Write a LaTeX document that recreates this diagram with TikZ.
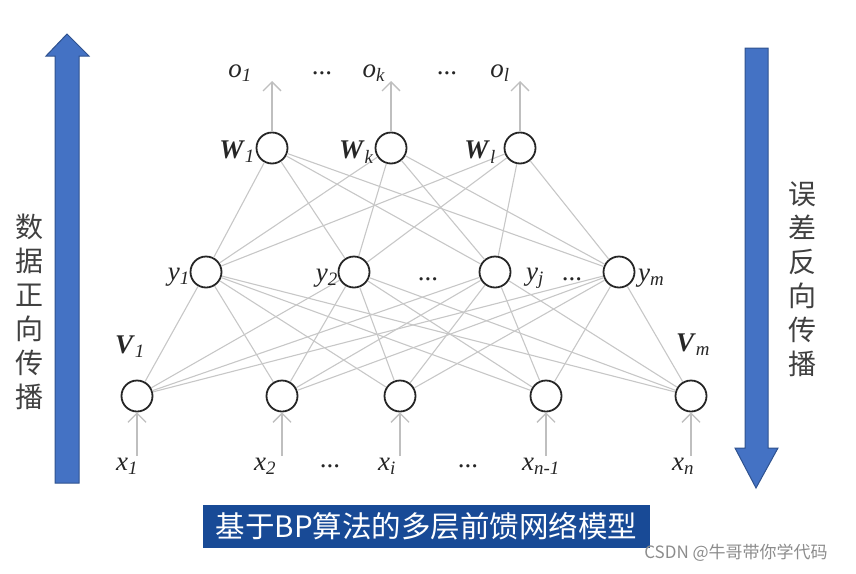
\documentclass[tikz,border=0pt]{standalone}
\usepackage{fontspec}
\setmainfont{Liberation Serif}
\newfontfamily\cjk{Noto Sans CJK SC}
\usetikzlibrary{arrows.meta,positioning}

\definecolor{flowblue}{RGB}{68,114,196}
\definecolor{flowedge}{RGB}{47,82,143}
\definecolor{titleblue}{RGB}{24,74,150}

\newcommand{\lbl}[2]{\textit{#1}\textsubscript{\textit{#2}}}
\newcommand{\blbl}[2]{\textbf{\textit{#1}}\textsubscript{\textit{#2}}}

\begin{document}
\begin{tikzpicture}[x=1pt, y=-1pt,
  unit/.style={draw=black!85, circle, line width=1.8pt, fill=white, minimum size=31pt, inner sep=0pt},
  link/.style={draw=black!22, line width=1.1pt},
  feed/.style={draw=black!25, line width=1.3pt, -{Straight Barb[length=9pt,width=18pt]}},
  sym/.style={font=\fontsize{27}{27}\selectfont, inner sep=0pt, text=black!85},
  flow/.style={fill=flowblue, draw=flowedge, line width=1pt},
  vtext/.style={font=\cjk\fontsize{28}{34}\selectfont, align=center, text=black!75}]
  \useasboundingbox (0,0) rectangle (856,573);
  % layers
  \node[unit] (O1) at (272,148) {};
  \node[unit] (O2) at (391,148) {};
  \node[unit] (O3) at (520,148) {};
  \node[unit] (H1) at (206,272) {};
  \node[unit] (H2) at (354,272) {};
  \node[unit] (H3) at (495,272) {};
  \node[unit] (H4) at (619,272) {};
  \node[unit] (I1) at (137,396) {};
  \node[unit] (I2) at (282,396) {};
  \node[unit] (I3) at (400,396) {};
  \node[unit] (I4) at (546,396) {};
  \node[unit] (I5) at (691,396) {};
  % full connections
  \foreach \h in {1,...,4} {
    \foreach \o in {1,2,3} \draw[link] (H\h) -- (O\o);
    \foreach \i in {1,...,5} \draw[link] (I\i) -- (H\h);
  }
  % inputs and outputs
  \coordinate (to1) at (272,81);
  \coordinate (to2) at (391,81);
  \coordinate (to3) at (520,81);
  \foreach \o in {1,2,3} \draw[feed] (O\o) -- (to\o);
  \coordinate (ti1) at (137,456);
  \coordinate (ti2) at (282,456);
  \coordinate (ti3) at (400,456);
  \coordinate (ti4) at (546,456);
  \coordinate (ti5) at (691,456);
  \foreach \i in {1,...,5} \draw[feed] (ti\i) -- (I\i);
  % labels
  \node[sym] (lo1) at (240,73) {\lbl{o}{1}};
  \node[sym] (dot1) at (322,73) {...};
  \node[sym] (lok) at (374,73) {\lbl{o}{k}};
  \node[sym] (dot2) at (447,73) {...};
  \node[sym] (lol) at (500,73) {\lbl{o}{l}};
  \node[sym, anchor=east] (lw1) at (255,152) {\blbl{W}{1}};
  \node[sym, anchor=east] (lwk) at (374,152) {\blbl{W}{k}};
  \node[sym, anchor=east] (lwl) at (496,152) {\blbl{W}{l}};
  \node[sym, anchor=east] (ly1) at (190,277) {\lbl{y}{1}};
  \node[sym, anchor=east] (ly2) at (338,278) {\lbl{y}{2}};
  \node[sym] (dot3) at (428,279) {...};
  \node[sym, anchor=west] (lyj) at (526,278) {\lbl{y}{j}};
  \node[sym] (dot4) at (572,279) {...};
  \node[sym, anchor=west] (lym) at (638,278) {\lbl{y}{m}};
  \node[sym] (lv1) at (130,347) {\blbl{V}{1}};
  \node[sym] (lvm) at (693,345) {\blbl{V}{m}};
  \node[sym] (lx1) at (127,466) {\lbl{x}{1}};
  \node[sym] (lx2) at (265,466) {\lbl{x}{2}};
  \node[sym] (dot5) at (330,466) {...};
  \node[sym] (lxi) at (387,466) {\lbl{x}{i}};
  \node[sym] (dot6) at (468,466) {...};
  \node[sym] (lxn1) at (541,466) {\lbl{x}{n-1}};
  \node[sym] (lxn) at (683,466) {\lbl{x}{n}};
  % direction arrows
  \draw[flow] (55,483) -- (55,56) -- (46,56) -- (67,34) -- (89,56) -- (79,56) -- (79,483) -- cycle;
  \draw[flow] (745,48) -- (745,448) -- (735,448) -- (756,488) -- (778,448) -- (768,448) -- (768,48) -- cycle;
  \node[vtext] (fwd) at (29,312) {数\\据\\正\\向\\传\\播};
  \node[vtext] (bwd) at (802,279) {误\\差\\反\\向\\传\\播};
  % title
  \node[fill=titleblue, text=white, minimum width=447pt, minimum height=43pt, inner sep=0pt,
    font=\cjk\fontsize{29.5}{29.5}\selectfont] (title) at (426.5,526.5) {基于BP算法的多层前馈网络模型};
  \node[text=black!45, font=\cjk\fontsize{17}{17}\selectfont] (mark) at (736,553) {CSDN @牛哥带你学代码};
\end{tikzpicture}
\end{document}
